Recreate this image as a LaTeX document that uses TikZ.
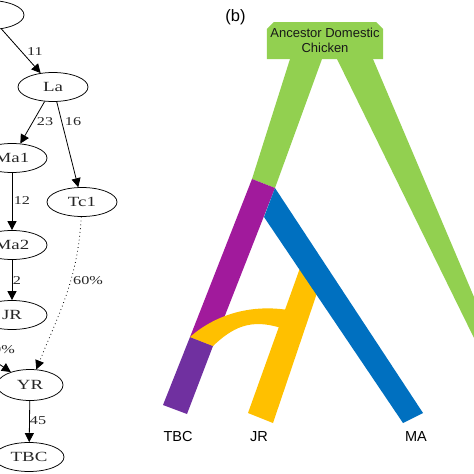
\documentclass[tikz,border=0pt]{standalone}
\usepackage{graphicx}
\usepackage{fontspec}
\setmainfont{Liberation Serif}
\newfontfamily\arial{Liberation Sans}
\usepackage{tikz}
\usetikzlibrary{calc,positioning,arrows.meta,shapes.geometric,shapes.misc}
\definecolor{ancgreen}{RGB}{146,208,80}
\definecolor{tbcup}{RGB}{161,26,156}
\definecolor{tbclow}{RGB}{112,48,160}
\definecolor{jryellow}{RGB}{255,192,0}
\definecolor{mablue}{RGB}{0,112,192}
\newcommand{\wide}[1]{\scalebox{1.35}[1]{#1}}

\begin{document}
\begin{tikzpicture}[x=1pt, y=1pt]
\tikzstyle{gv}=[ellipse, draw, line width=0.75pt, minimum width=70pt,
                minimum height=29pt, inner sep=0pt, text=black!85,
                font=\fontsize{14}{16}\selectfont]
\tikzstyle{lab}=[inner sep=0pt, text=black!85, font=\fontsize{12}{14}\selectfont]
\tikzstyle{arr}=[-{Triangle[length=9pt,width=9pt]}, line width=0.8pt]
\tikzstyle{leaf}=[inner sep=0pt, font=\arial\fontsize{14.5}{16}\selectfont]
\useasboundingbox (0,0) rectangle (474,-474);

% (a) graph
\node[gv] (root) at (-11,-15) {};
\node[gv] (La)  at (53,-87)  {\wide{La}};
\node[gv] (Ma1) at (12,-158) {\wide{Ma1}};
\node[gv] (Tc1) at (82,-202) {\wide{Tc1}};
\node[gv] (Ma2) at (12,-245) {\wide{Ma2}};
\node[gv] (JR)  at (12,-315) {\wide{JR}};
\node[gv, minimum width=66pt, minimum height=31pt] (YR) at (30,-385) {\wide{YR}};
\node[gv] (TBC) at (29,-457) {\wide{TBC}};
\coordinate (off) at (-32,-343);

\draw[arr] (root) -- (La);
\draw[arr] (La) -- (Ma1);
\draw[arr] (La) -- (Tc1);
\draw[arr] (Ma1) -- (Ma2);
\draw[arr] (Ma2) -- (JR);
\draw[arr] (off) -- (YR);
\draw[arr, dash pattern=on 0.8pt off 3pt] (Tc1) to[out=-93, in=68] (YR);
\draw[arr] (YR) -- (TBC);

\node[lab] (w11) at (35,-52)  {\wide{11}};
\node[lab] (w23) at (45,-122) {\wide{23}};
\node[lab] (w16) at (73,-122) {\wide{16}};
\node[lab] (w12) at (22,-201) {\wide{12}};
\node[lab] (w2)  at (17,-281) {\wide{2}};
\node[lab] (w60) at (88,-281) {\wide{60\%}};
\node[lab, anchor=east] (w40) at (15,-350) {\wide{40\%}};
\node[lab] (w45) at (38,-421) {\wide{45}};

% (b) admixture
\node[leaf, font=\arial\fontsize{16.5}{18}\selectfont] (b) at (235.5,-17) {(b)};
\fill[ancgreen] (337,-59) -- (373,-59) -- (474,-297) -- (474,-338) -- cycle;
\fill[ancgreen] (290,-59) -- (322,-59) -- (275,-188) -- (252,-179) -- cycle;
\fill[tbcup] (252,-179) -- (275,-188) -- (213,-346) -- (190,-337) -- cycle;
\fill[tbclow] (190,-337) -- (213,-346) -- (187,-414) -- (163,-405) -- cycle;
\fill[jryellow] (300,-268) -- (317,-293) -- (273,-423) -- (248,-413) -- cycle;
\fill[jryellow] (288,-310) .. controls (250,-304) and (215,-315) .. (190,-337)
  -- (213,-346) .. controls (232,-328) and (250,-318) .. (281,-328) -- cycle;
\fill[mablue] (275,-188) -- (423,-413) -- (403,-423) -- (264,-217) -- cycle;
\node[chamfered rectangle, chamfered rectangle corners={north west,north east},
      chamfered rectangle sep=3.5pt, fill=ancgreen, minimum width=116pt,
      minimum height=37pt, inner sep=0pt, align=center, text=black!90,
      font=\arial\fontsize{13}{15.5}\selectfont] (anc) at (325,-40.5)
      {Ancestor Domestic\\Chicken};

\node[leaf] (tbc) at (178,-437) {TBC};
\node[leaf] (jr)  at (259,-437) {JR};
\node[leaf] (ma)  at (416,-437) {MA};
\end{tikzpicture}
\end{document}
